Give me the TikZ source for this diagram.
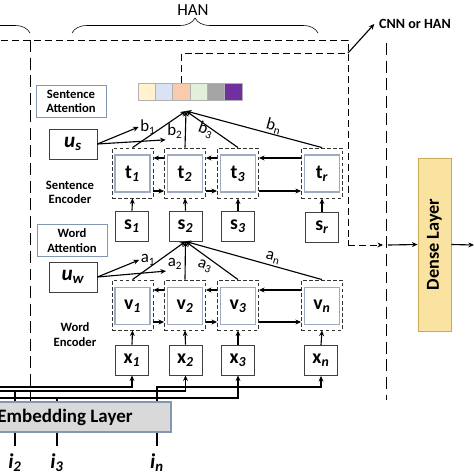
\documentclass[tikz,border=0pt]{standalone}
\usepackage{fontspec}
\setmainfont{Carlito}
\usepackage{tikz}
\usetikzlibrary{arrows.meta, positioning, decorations.pathreplacing}
\definecolor{barA}{RGB}{255,242,204}
\definecolor{barB}{RGB}{218,227,243}
\definecolor{barC}{RGB}{248,203,173}
\definecolor{barD}{RGB}{226,240,217}
\definecolor{barE}{RGB}{165,165,165}
\definecolor{barF}{RGB}{112,48,160}
\definecolor{denseFill}{RGB}{250,226,160}
\definecolor{denseLine}{RGB}{200,170,90}
\definecolor{embFill}{RGB}{217,217,217}
\definecolor{blueGray}{RGB}{132,151,176}
\newcommand{\lsub}[1]{\textsubscript{\itshape #1}}

\tikzset{
  inbox/.style={draw=black!75, semithick, minimum width=0.825cm, minimum height=0.75cm, inner sep=0pt, font=\fontsize{14}{16}\selectfont\bfseries},
  encbox/.style={draw=blueGray!80, line width=0.9pt, minimum width=0.875cm, minimum height=0.925cm, inner sep=0pt, font=\fontsize{14}{16}\selectfont\bfseries},
  grpbox/.style={draw=black!80, dash pattern=on 2.5pt off 1.8pt, semithick, minimum width=1.025cm, minimum height=1.25cm},
  attbox/.style={draw=blueGray, semithick, align=center, minimum width=1.75cm, minimum height=0.8cm, inner sep=1pt, font=\fontsize{9}{10.5}\selectfont\bfseries},
  enclab/.style={align=center, font=\fontsize{9}{10.5}\selectfont\bfseries},
  ubox/.style={inbox, minimum width=1.2cm, font=\fontsize{15}{17}\selectfont\bfseries\itshape},
  wlab/.style={inner sep=1pt, font=\fontsize{12}{14}\selectfont},
  inlab/.style={inner sep=1pt, font=\fontsize{15}{17}\selectfont\bfseries\itshape},
  cell/.style={draw=gray!60, minimum width=0.433cm, minimum height=0.425cm, inner sep=0pt},
  hanline/.style={semithick, dash pattern=on 5pt off 2.8pt},
  longdash/.style={semithick, dash pattern=on 8.5pt off 4pt},
  wire/.style={thick},
}

\begin{document}
\begin{tikzpicture}[x=0.025cm, y=-0.025cm, >={Stealth[length=4pt,width=3.5pt]}]
    \useasboundingbox (0,0) rectangle (474,474);
    \clip (0,0) rectangle (474,474);

    % Ngoặc nhọn phía trên và chữ "HAN"
    \draw[decorate, decoration={brace, amplitude=0.375cm}] (-260,33) -- (30,33);
    \draw[decorate, decoration={brace, amplitude=0.375cm}] (72,33) -- (318,33);
    \node[font=\fontsize{12}{14}\selectfont] (han) at (193,10) {HAN};

    % Khung nét đứt bao quanh HAN
    \coordinate (hanout) at (348,53);
    \coordinate (hanbot) at (348,245);
    \coordinate (sepin) at (383,245);
    \draw[hanline] (-10,40) -- (348,40) -- (hanout);
    \draw[longdash] (30,40) -- (30,402);
    \draw[longdash] (386,43) -- (386,400);

    % Chữ "CNN or HAN"
    \node[font=\fontsize{10}{12}\selectfont\bfseries] (cnn) at (415,24) {CNN or HAN};
    \draw[thick, ->] (hanout) -- (cnn.west);

    % Dense Layer
    \node[draw=denseLine, fill=denseFill, semithick, minimum width=0.825cm, minimum height=4.325cm, inner sep=0pt,
          font=\fontsize{13}{15}\selectfont\bfseries] (dense) at (434.5,244.5) {\rotatebox{90}{Dense Layer}};
    \coordinate (sepout) at (388,245);
    \coordinate (out) at (474,245);
    \draw[thick, ->] (sepout) -- (dense.west);
    \draw[thick, ->] (dense.east) -- (out);

    % Thanh vector câu (attention)
    \foreach \c [count=\k] in {barA,barB,barC,barD,barE,barF}
        \node[cell, fill=\c] (bar\k) at ({129.33+17.33*\k},91.5) {};
    \draw[hanline] (bar3.north) |- (hanout) -- (hanbot);
    \draw[hanline, ->] (hanbot) -- (sepin);
    \coordinate (pb) at (186,111);

    % Sentence Attention, u_s
    \node[attbox] (satt) at (71,101.5) {Sentence\\Attention};
    \node[ubox] (us) at (73,144) {u\lsub{s}};
    \node[enclab] (senc) at (70,192.5) {Sentence\\Encoder};

    % Hàng t (Sentence Encoder)
    \node[grpbox] (T1) at (132.5,173) {};
    \node[encbox] (t1) at (132.5,173.5) {t\lsub{1}};
    \node[grpbox] (T2) at (185,173) {};
    \node[encbox] (t2) at (185,173.5) {t\lsub{2}};
    \node[grpbox] (T3) at (238,173) {};
    \node[encbox] (t3) at (238,173.5) {t\lsub{3}};
    \node[grpbox] (T4) at (322,173) {};
    \node[encbox] (tr) at (322,173.5) {t\lsub{r}};
    \draw[thick, ->] ([yshift=0.375cm]T2.west) -- ([yshift=0.375cm]T1.east);
    \draw[thick, ->] ([yshift=0.375cm]T3.west) -- ([yshift=0.375cm]T2.east);
    \draw[thick, ->] ([yshift=0.375cm]T4.west) -- ([yshift=0.375cm]T3.east);
    \draw[thick, ->] ([yshift=-0.45cm]T1.east) -- ([yshift=-0.45cm]T2.west);
    \draw[thick, ->] ([yshift=-0.45cm]T2.east) -- ([yshift=-0.45cm]T3.west);
    \draw[thick, ->] ([yshift=-0.45cm]T3.east) -- ([yshift=-0.45cm]T4.west);

    % Trọng số b
    \node[wlab] (b1) at (148,127) {b\textsubscript{1}};
    \node[wlab] (b2) at (175,131) {b\textsubscript{2}};
    \node[wlab, rotate=-20] (b3) at (206,130) {b\textsubscript{3}};
    \node[wlab, rotate=-15] (bn) at (274,126) {b\textsubscript{n}};
    \draw[thick, ->] (T1.north) -- (pb);
    \draw[thick, ->] (T2.north) -- (pb);
    \draw[thick, ->] (T3.north) -- (pb);
    \draw[thick, ->] (T4.north) -- (pb);
    \draw[thick, ->] (us.east) -- (b1.west);
    \draw[thick, ->] (us.east) -- (b2.south west);

    % Hàng s
    \node[inbox] (s1) at (132,226) {s\lsub{1}};
    \node[inbox] (s2) at (185.5,226) {s\lsub{2}};
    \node[inbox] (s3) at (238,226) {s\lsub{3}};
    \node[inbox] (sr) at (322,227) {s\lsub{r}};
    \draw[thick, ->] (s1.north) -- (T1.south);
    \draw[thick, ->] (s2.north) -- (T2.south);
    \draw[thick, ->] (s3.north) -- (T3.south);
    \draw[thick, ->] (sr.north) -- (T4.south);

    % Word Attention, u_w
    \node[attbox] (watt) at (72,240.5) {Word\\Attention};
    \node[ubox] (uw) at (73,277) {u\lsub{w}};
    \node[enclab] (wenc) at (75,334.5) {Word\\Encoder};

    % Hàng v (Word Encoder)
    \node[grpbox] (V1) at (132.5,305) {};
    \node[encbox] (v1) at (132.5,306) {v\lsub{1}};
    \node[grpbox] (V2) at (185,305) {};
    \node[encbox] (v2) at (185,306) {v\lsub{2}};
    \node[grpbox] (V3) at (238,305) {};
    \node[encbox] (v3) at (238,306) {v\lsub{3}};
    \node[grpbox] (V4) at (322,305) {};
    \node[encbox] (vn) at (322,306) {v\lsub{n}};
    \draw[thick, ->] ([yshift=0.375cm]V2.west) -- ([yshift=0.375cm]V1.east);
    \draw[thick, ->] ([yshift=0.375cm]V3.west) -- ([yshift=0.375cm]V2.east);
    \draw[thick, ->] ([yshift=0.375cm]V4.west) -- ([yshift=0.375cm]V3.east);
    \draw[thick, ->] ([yshift=-0.425cm]V1.east) -- ([yshift=-0.425cm]V2.west);
    \draw[thick, ->] ([yshift=-0.425cm]V2.east) -- ([yshift=-0.425cm]V3.west);
    \draw[thick, ->] ([yshift=-0.425cm]V3.east) -- ([yshift=-0.425cm]V4.west);

    % Trọng số a
    \node[wlab] (a1) at (148,260) {a\textsubscript{1}};
    \node[wlab] (a2) at (175,264) {a\textsubscript{2}};
    \node[wlab, rotate=-20] (a3) at (205,266) {a\textsubscript{3}};
    \node[wlab, rotate=-15] (an) at (273,258) {a\textsubscript{n}};
    \draw[thick, ->] (V1.north) -- (s2.south);
    \draw[thick, ->] (V2.north) -- (s2.south);
    \draw[thick, ->] (V3.north) -- (s2.south);
    \draw[thick, ->] (V4.north) -- (s2.south);
    \draw[thick, ->] (uw.east) -- (a1.west);
    \draw[thick, ->] (uw.east) -- (a2.south west);

    % Hàng x
    \node[inbox] (x1) at (132,360) {x\lsub{1}};
    \node[inbox] (x2) at (185.5,360) {x\lsub{2}};
    \node[inbox] (x3) at (238,360) {x\lsub{3}};
    \node[inbox] (xn) at (321,360.5) {x\lsub{n}};
    \draw[thick, ->] (x1.north) -- (V1.south);
    \draw[thick, ->] (x2.north) -- (V2.south);
    \draw[thick, ->] (x3.north) -- (V3.south);
    \draw[thick, ->] (xn.north) -- (V4.south);

    % Embedding Layer và đầu vào i
    \node[draw=blueGray, line width=1pt, fill=embFill, minimum width=5.3cm, minimum height=0.75cm,
          font=\fontsize{13.5}{16}\selectfont\bfseries] (emb) at (65,417) {Embedding Layer};
    \node[inlab] (i2) at (15,463) {i\lsub{2}};
    \node[inlab] (i3) at (57,463) {i\lsub{3}};
    \node[inlab] (in) at (157,463) {i\lsub{n}};
    \draw[thick] (emb.south -| i2.north) -- ([yshift=0.15cm]i2.north);
    \draw[thick] (emb.south -| i3.north) -- ([yshift=0.15cm]i3.north);
    \draw[thick] (emb.south -| in.north) -- ([yshift=0.15cm]in.north);

    % Dây nối từ Embedding lên các x
    \coordinate (w1) at (-10,387);
    \coordinate (w2) at (-10,391);
    \coordinate (w3) at (-10,398);
    \draw[wire, ->] (w1) -| (x1.south);
    \draw[wire, ->] (w2) -| (x2.south);
    \draw[wire, ->] (w3) -| (x3.south);
    \draw[wire] (emb.north -| i2.north) -- (i2.north |- w2);
    \draw[wire] (emb.north -| i3.north) -- (i3.north |- w3);
    \draw[wire, ->] (emb.north -| in.north) -- (in.north |- w1) -| (xn.south);
\end{tikzpicture}
\end{document}
